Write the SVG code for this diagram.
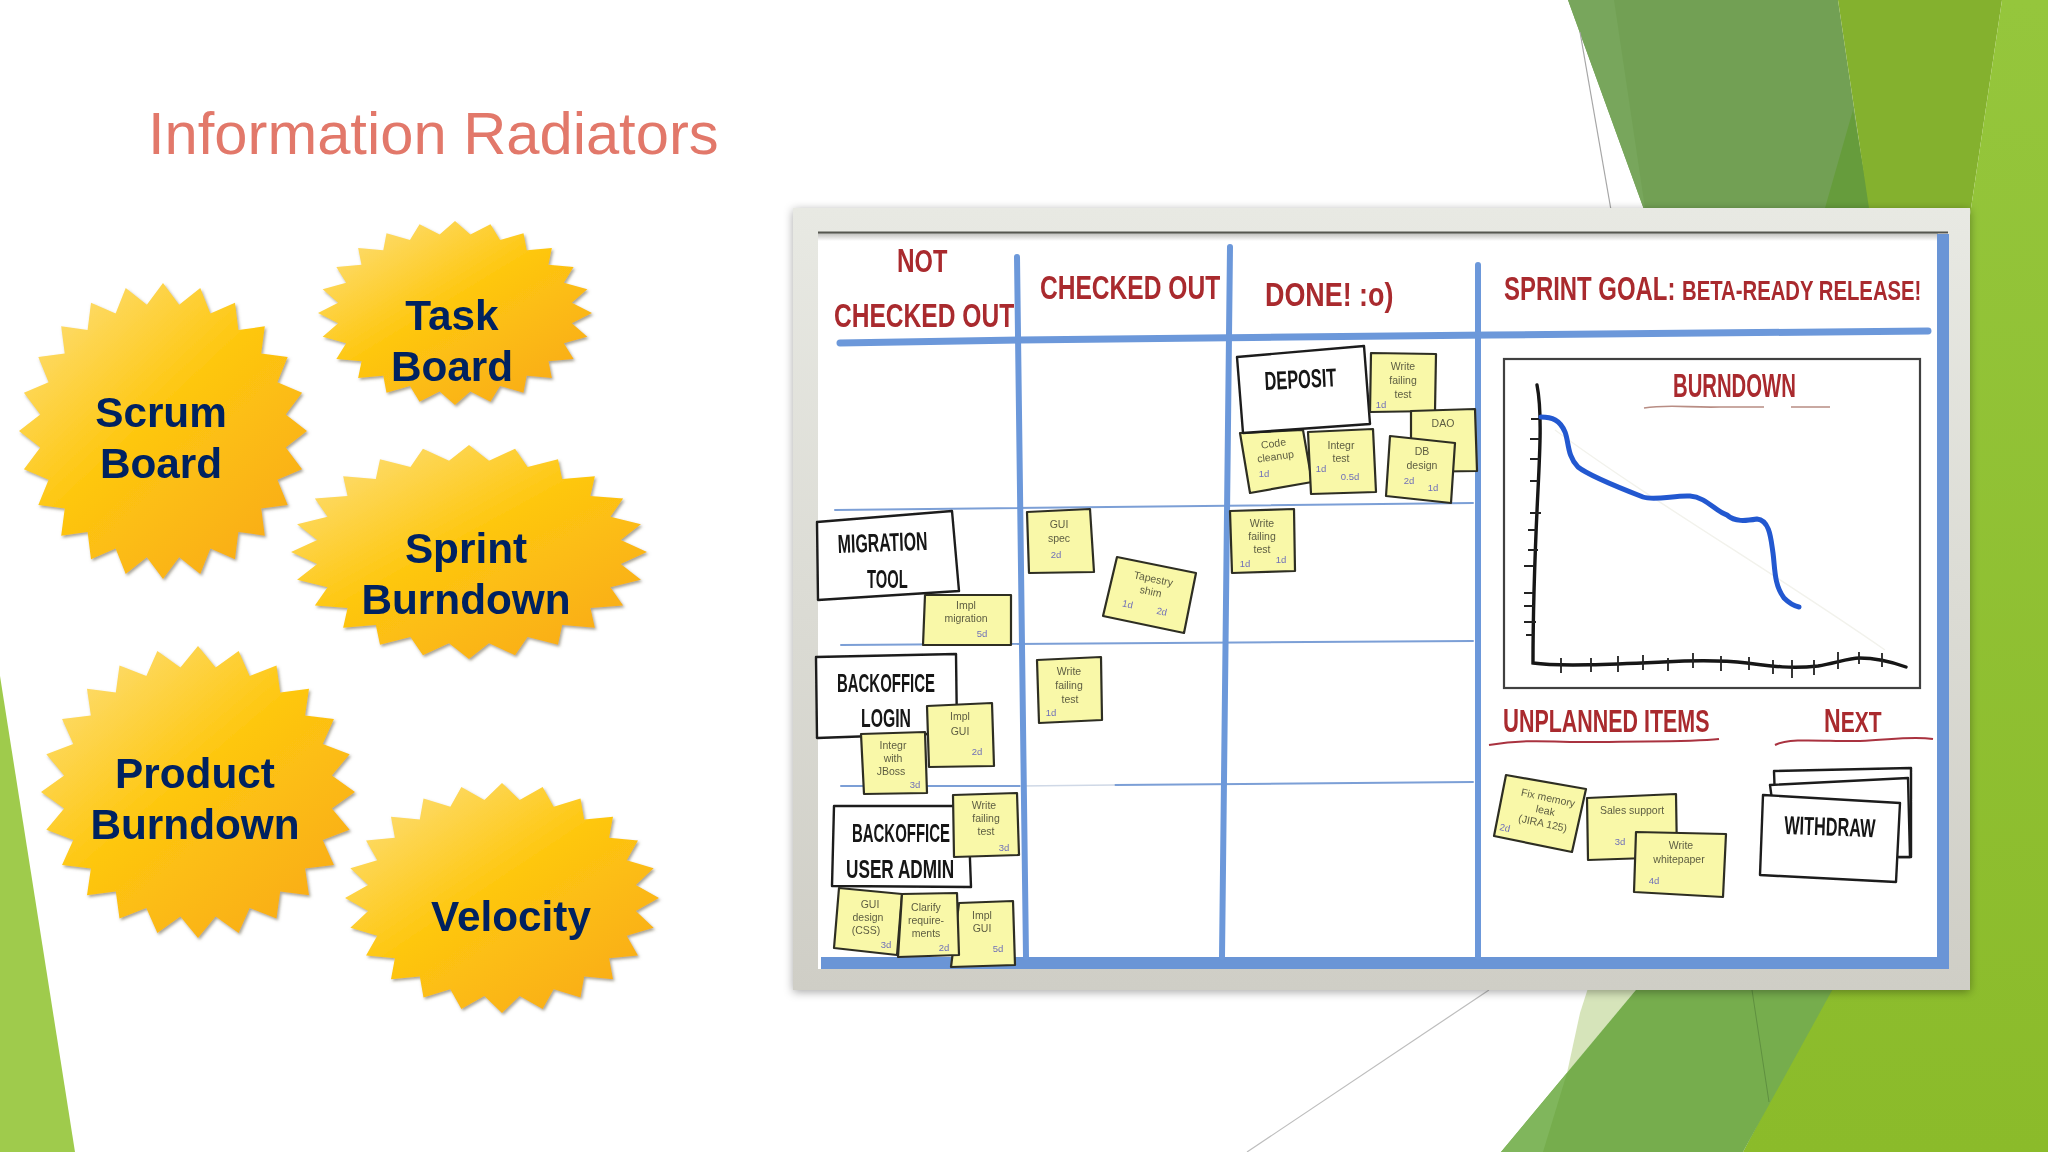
<svg xmlns="http://www.w3.org/2000/svg" xmlns:xlink="http://www.w3.org/1999/xlink" width="2048" height="1152" viewBox="0 0 2048 1152">
<style>
.burst-label{font-family:"Liberation Sans",Arial,sans-serif;font-weight:700;font-size:42.3px;fill:#002060;text-anchor:middle}
.h{font-family:"Liberation Sans",Arial,sans-serif;font-weight:700;fill:#a92a2e;font-size:33px}
.k{font-family:"Liberation Sans",Arial,sans-serif;font-weight:700;fill:#151515;font-size:26px}
.note{fill:#f9f8a8;stroke:#2e2e24;stroke-width:2.2;stroke-linejoin:round}
.card{fill:#fff;stroke:#1c1c1c;stroke-width:2.4;stroke-linejoin:round}
.s{font-family:"Liberation Sans",Arial,sans-serif;font-size:10.500px;fill:#5d5d42;text-anchor:middle}
.e{font-family:"Liberation Sans",Arial,sans-serif;font-size:9.500px;fill:#6f6fb8;text-anchor:middle}
.blue{stroke:#6c98da;fill:none;stroke-linecap:round}
.row{stroke:#7c9fd6;fill:none;stroke-linecap:round}
.axis{stroke:#151515;fill:none;stroke-linecap:round}
.tick{stroke:#222;stroke-width:1.8;fill:none}
.ul{stroke:#a9333f;stroke-width:2;fill:none}
</style>
<defs>
<linearGradient id="gold" x1="0.12" y1="0.08" x2="0.88" y2="0.92">
<stop offset="0" stop-color="#fddc6f"/><stop offset="0.45" stop-color="#fec70f"/><stop offset="1" stop-color="#f9ac19"/>
</linearGradient>
<linearGradient id="frameGrad" x1="0" y1="0" x2="0" y2="1">
<stop offset="0" stop-color="#e8e9e3"/><stop offset="1" stop-color="#cfcec6"/>
</linearGradient>
<linearGradient id="rightGreen" x1="0" y1="0" x2="0" y2="1">
<stop offset="0" stop-color="#95c63c"/><stop offset="1" stop-color="#8bbb2a"/>
</linearGradient>
<linearGradient id="topShade" x1="0" y1="0" x2="0" y2="1">
<stop offset="0" stop-color="#bcbcb8"/><stop offset="1" stop-color="#ffffff"/>
</linearGradient>
<polygon id="star" points="0,-1 .1123,-.8526 .2588,-.9659 .3291,-.7945 .5,-.866 .5235,-.6823 .7071,-.7071 .6823,-.5235 .866,-.5 .7945,-.3291 .9659,-.2588 .8526,-.1123 1,0 .8526,.1123 .9659,.2588 .7945,.3291 .866,.5 .6823,.5235 .7071,.7071 .5235,.6823 .5,.866 .3291,.7945 .2588,.9659 .1123,.8526 0,1 -.1123,.8526 -.2588,.9659 -.3291,.7945 -.5,.866 -.5235,.6823 -.7071,.7071 -.6823,.5235 -.866,.5 -.7945,.3291 -.9659,.2588 -.8526,.1123 -1,0 -.8526,-.1123 -.9659,-.2588 -.7945,-.3291 -.866,-.5 -.6823,-.5235 -.7071,-.7071 -.5235,-.6823 -.5,-.866 -.3291,-.7945 -.2588,-.9659 -.1123,-.8526" fill="url(#gold)"/>
<filter id="burstShadow" x="-10%" y="-10%" width="120%" height="120%">
<feDropShadow dx="1.5" dy="2" stdDeviation="1.6" flood-color="#6d6550" flood-opacity="0.6"/>
</filter>
<filter id="frameShadow" x="-3%" y="-4%" width="106%" height="108%">
<feDropShadow dx="0" dy="2" stdDeviation="5" flood-color="#000" flood-opacity="0.35"/>
</filter>
<filter id="soft" x="-2%" y="-2%" width="104%" height="104%"><feGaussianBlur stdDeviation="0.75"/></filter>
</defs>

<rect width="2048" height="1152" fill="#fff"/>

<g id="background">
<polygon points="0,676 75,1152 0,1152" fill="#9fcb4c"/>
<polygon points="1568,0 1838,0 1870,215 1646,215" fill="#72a054"/>
<polygon points="1568,0 1614,0 1646,215" fill="#78a65c"/>
<polygon points="1853,110 1823,215 1872,215" fill="#669c3c"/>
<polygon points="1838,0 2002,0 1970,215 1870,215" fill="#84b12e"/>
<polygon points="2002,0 2048,0 2048,1152 1743,1152 1831,985 1960,985 1960,215 1970,215" fill="url(#rightGreen)"/>
<polygon points="1589,985 1640,985 1567,1073 1580,1013" fill="#d6e4ba"/>
<polygon points="1640,985 1835,985 1743,1152 1501,1152" fill="#76ad4d"/>
<polygon points="1567,1073 1501,1152 1543,1152" fill="#80b65c"/>
<line x1="1752" y1="990" x2="1769" y2="1102" stroke="#5f9040" stroke-width="1"/>
<line x1="1580" y1="32" x2="1611" y2="210" stroke="#a6a6a6" stroke-width="1.2"/>
<line x1="1247" y1="1152" x2="1489" y2="990" stroke="#bdbdbd" stroke-width="1.2"/>
</g>

<text id="title" x="148" y="154" font-family="'Liberation Sans',Arial,sans-serif" font-size="59.700" fill="#e2786a">Information Radiators</text>

<g id="scrum-board" filter="url(#burstShadow)">
<use xlink:href="#star" href="#star" transform="translate(163 431) scale(144 148)"/>
<text class="burst-label" x="161" y="427">Scrum</text><text class="burst-label" x="161" y="478">Board</text>
</g>
<g id="task-board" filter="url(#burstShadow)">
<use xlink:href="#star" href="#star" transform="translate(455 313) scale(137 92)"/>
<text class="burst-label" x="452" y="330">Task</text><text class="burst-label" x="452" y="381">Board</text>
</g>
<g id="sprint-burndown" filter="url(#burstShadow)">
<use xlink:href="#star" href="#star" transform="translate(469 552) scale(178 107)"/>
<text class="burst-label" x="466" y="563">Sprint</text><text class="burst-label" x="466" y="614">Burndown</text>
</g>
<g id="product-burndown" filter="url(#burstShadow)">
<use xlink:href="#star" href="#star" transform="translate(198 792) scale(157 146)"/>
<text class="burst-label" x="195" y="788">Product</text><text class="burst-label" x="195" y="839">Burndown</text>
</g>
<g id="velocity" filter="url(#burstShadow)">
<use xlink:href="#star" href="#star" transform="translate(502 898) scale(157 115)"/>
<text class="burst-label" x="511" y="931">Velocity</text>
</g>

<g id="whiteboard">
<rect x="793" y="208" width="1177" height="782" fill="url(#frameGrad)" filter="url(#frameShadow)"/>
<rect x="818" y="232" width="1130" height="737" fill="#fff"/>
<rect x="818" y="233" width="1120" height="8" fill="url(#topShade)"/>
<g filter="url(#soft)">
<line x1="818" y1="232.500" x2="1948" y2="232.500" stroke="#55564f" stroke-width="2"/>
<rect x="1937" y="234" width="12" height="735" fill="#6a95d6"/>
<rect x="821" y="957" width="1128" height="12" fill="#6a95d6"/>

<g id="grid">
<path class="row" stroke-width="2" d="M835 510 L1473 503"/>
<path class="row" stroke-width="2" d="M841 645 L1473 641"/>
<path class="row" stroke-width="2" d="M841 786 L1020 786 M1115 785 L1473 782"/>
<path d="M1020 786 L1115 785" stroke="#cfd8e6" stroke-width="1.500"/>
<path class="blue" stroke-width="7" d="M840 343 L1020 340 L1490 335 L1928 331"/>
<path class="blue" stroke-width="6" d="M1017 257 L1026 957"/>
<path class="blue" stroke-width="6" d="M1230 247 L1222 957"/>
<path class="blue" stroke-width="6" d="M1478 265 L1478 957"/>
</g>

<g id="headers">
<text class="h" transform="translate(897 272) scale(.738 1)" font-size="38">N<tspan font-size="32">OT</tspan></text>
<text class="h" transform="translate(834 327) scale(.745 1)">CHECKED OUT</text>
<text class="h" transform="translate(1040 299) scale(.745 1)">CHECKED OUT</text>
<text class="h" transform="translate(1265 306) scale(.815 1)" font-size="40">D<tspan font-size="33">ONE! :o)</tspan></text>
<text class="h" transform="translate(1504 300) scale(.725 1)">SPRINT GOAL: <tspan font-size="28">BETA-READY RELEASE!</tspan></text>
<text class="h" transform="translate(1503 732) scale(.67 1)" font-size="37">U<tspan font-size="32">NPLANNED ITEMS</tspan></text>
<text class="h" transform="translate(1824 732) scale(.7 1)" font-size="37">N<tspan font-size="30">EXT</tspan></text>
<path class="ul" d="M1489 745 C1530 738 1560 743 1600 742 C1650 741 1690 742 1719 739"/>
<path class="ul" d="M1775 745 C1790 737 1830 742 1860 741 C1890 740 1910 736 1933 739"/>
</g>

<g id="burndown-chart">
<rect x="1504" y="359" width="416" height="329" fill="#fff" stroke="#3f3f3f" stroke-width="2.2"/>
<text class="h" transform="translate(1673 397) scale(.615 1)">BURNDOWN</text>
<path d="M1644 408 C1670 404 1690 408 1720 407 L1764 407 M1791 407 L1830 407" stroke="#b88d84" stroke-width="1.6" fill="none"/>
<path d="M1555 430 C1650 500 1770 570 1885 650" stroke="#f2f2ec" stroke-width="1.4" fill="none"/>
<path class="axis" stroke-width="3.4" d="M1537 385 C1542 410 1540 450 1538 490 C1535 550 1533 610 1533 663 C1560 667 1620 664 1663 662 C1700 660 1730 661 1747 663 C1770 666 1790 669 1818 666 C1835 663 1850 658 1859 658 C1880 658 1895 663 1906 667"/>
<path class="tick" d="M1531 419H1541M1530 439H1540M1530 459H1540M1530 481H1538M1530 513H1541M1528 530H1536M1528 550H1538M1524 566H1534M1524 593H1533M1524 606H1534M1524 622H1536M1526 635H1533"/>
<path class="tick" d="M1561 658V673M1591 658V672M1618 656V672M1643 655V670M1668 658V671M1693 653V668M1721 656V671M1749 657V670M1773 660V674M1792 660V678M1814 660V675M1838 652V669M1859 652V664M1882 653V667"/>
<path fill="none" stroke="#2458d0" stroke-width="5" stroke-linecap="round" d="M1541 417 C1552 417 1560 420 1565 432 C1569 442 1567 456 1578 467 C1588 475 1625 490 1643 497 C1655 501 1675 495 1690 496 C1706 497 1716 512 1727 515 C1735 522 1745 521 1757 519 C1770 520 1771 540 1773 553 C1775 568 1774 585 1784 598 C1789 603 1794 606 1799 607"/>
</g>

<g id="cards">
<polygon class="note" points="1240,433 1303,430 1312,482 1250,493"/>
<polygon class="note" points="1308,432 1373,429 1376,492 1311,494"/>
<polygon class="card" points="1237,357 1364,346 1370,424 1243,433"/>
<polygon class="note" points="1371,353 1436,354 1435,411 1370,412"/>
<polygon class="note" points="1411,411 1475,409 1477,471 1411,472"/>
<polygon class="note" points="1390,436 1455,443 1451,503 1386,496"/>
<polygon class="note" points="1027,512 1090,509 1094,572 1029,573"/>
<polygon class="note" points="1117,557 1196,573 1184,633 1103,616"/>
<polygon class="note" points="1230,511 1294,509 1295,571 1232,573"/>
<polygon class="card" points="817,522 952,511 959,591 818,600"/>
<polygon class="note" points="925,595 1011,595 1011,645 923,645"/>
<polygon class="card" points="816,657 956,654 957,733 817,738"/>
<polygon class="note" points="927,706 992,703 994,766 929,767"/>
<polygon class="note" points="861,734 925,732 927,793 864,794"/>
<polygon class="note" points="1037,660 1101,657 1102,720 1039,723"/>
<polygon class="card" points="834,806 968,806 971,887 832,886"/>
<polygon class="note" points="953,795 1017,793 1019,855 954,857"/>
<polygon class="note" points="959,903 1013,901 1015,965 951,967"/>
<polygon class="note" points="839,888 902,894 897,955 834,948"/>
<polygon class="note" points="902,894 957,893 959,955 898,957"/>
<polygon class="note" points="1506,775 1586,789 1572,852 1494,836"/>
<polygon class="note" points="1587,798 1676,794 1677,857 1588,860"/>
<polygon class="note" points="1636,832 1726,834 1723,897 1634,892"/>
<polygon class="card" points="1774,771 1911,768 1911,857 1899,857 1775,800"/>
<polygon class="card" points="1770,785 1908,778 1910,857 1898,857 1772,800"/>
<polygon class="card" points="1763,795 1900,803 1896,882 1760,875"/>

<text class="k" transform="translate(1265 390) rotate(-3) scale(.63 1)">DEPOSIT</text>
<text class="k" transform="translate(838 553) rotate(-2) scale(.612 1)">MIGRATION</text>
<text class="k" transform="translate(867 588) scale(.568 1)">TOOL</text>
<text class="k" transform="translate(837 692) scale(.575 1)">BACKOFFICE</text>
<text class="k" transform="translate(861 727) scale(.607 1)">LOGIN</text>
<text class="k" transform="translate(852 842) scale(.575 1)">BACKOFFICE</text>
<text class="k" transform="translate(846 878) scale(.662 1)">USER ADMIN</text>
<text class="k" transform="translate(1784 834) rotate(2) scale(.625 1)">WITHDRAW</text>
</g>

<g id="note-text">
<text class="s" x="1403" y="370">Write</text><text class="s" x="1403" y="384">failing</text><text class="s" x="1403" y="398">test</text><text class="e" x="1381" y="408">1d</text>
<text class="s" x="1443" y="427">DAO</text>
<text class="s" x="1422" y="455">DB</text><text class="s" x="1422" y="469">design</text><text class="e" x="1409" y="484">2d</text><text class="e" x="1433" y="491">1d</text>
<text class="s" x="1274" y="447" transform="rotate(-8 1274 447)">Code</text><text class="s" x="1276" y="460" transform="rotate(-8 1276 460)">cleanup</text><text class="e" x="1264" y="477">1d</text>
<text class="s" x="1341" y="449">Integr</text><text class="s" x="1341" y="462">test</text><text class="e" x="1321" y="472">1d</text><text class="e" x="1350" y="480">0.5d</text>
<text class="s" x="1059" y="528">GUI</text><text class="s" x="1059" y="542">spec</text><text class="e" x="1056" y="558">2d</text>
<g transform="rotate(12 1150 595)"><text class="s" x="1150" y="582">Tapestry</text><text class="s" x="1150" y="595">shim</text><text class="e" x="1130" y="612">1d</text><text class="e" x="1165" y="612">2d</text></g>
<text class="s" x="1262" y="527">Write</text><text class="s" x="1262" y="540">failing</text><text class="s" x="1262" y="553">test</text><text class="e" x="1245" y="567">1d</text><text class="e" x="1281" y="563">1d</text>
<text class="s" x="966" y="609">Impl</text><text class="s" x="966" y="622">migration</text><text class="e" x="982" y="637">5d</text>
<text class="s" x="1069" y="675">Write</text><text class="s" x="1069" y="689">failing</text><text class="s" x="1070" y="703">test</text><text class="e" x="1051" y="716">1d</text>
<text class="s" x="960" y="720">Impl</text><text class="s" x="960" y="735">GUI</text><text class="e" x="977" y="755">2d</text>
<text class="s" x="893" y="749">Integr</text><text class="s" x="893" y="762">with</text><text class="s" x="891" y="775">JBoss</text><text class="e" x="915" y="788">3d</text>
<text class="s" x="984" y="809">Write</text><text class="s" x="986" y="822">failing</text><text class="s" x="986" y="835">test</text><text class="e" x="1004" y="851">3d</text>
<text class="s" x="870" y="908">GUI</text><text class="s" x="868" y="921">design</text><text class="s" x="866" y="934">(CSS)</text><text class="e" x="886" y="948">3d</text>
<text class="s" x="926" y="911">Clarify</text><text class="s" x="926" y="924">require-</text><text class="s" x="926" y="937">ments</text><text class="e" x="944" y="951">2d</text>
<text class="s" x="982" y="919">Impl</text><text class="s" x="982" y="932">GUI</text><text class="e" x="998" y="952">5d</text>
<g transform="rotate(12 1540 812)"><text class="s" x="1545" y="800">Fix memory</text><text class="s" x="1545" y="813">leak</text><text class="s" x="1545" y="826">(JIRA 125)</text><text class="e" x="1509" y="838">2d</text></g>
<text class="s" x="1632" y="814">Sales support</text><text class="e" x="1620" y="845">3d</text>
<text class="s" x="1681" y="849">Write</text><text class="s" x="1679" y="863">whitepaper</text><text class="e" x="1654" y="884">4d</text>
</g>
</g>
</g>
</svg>
